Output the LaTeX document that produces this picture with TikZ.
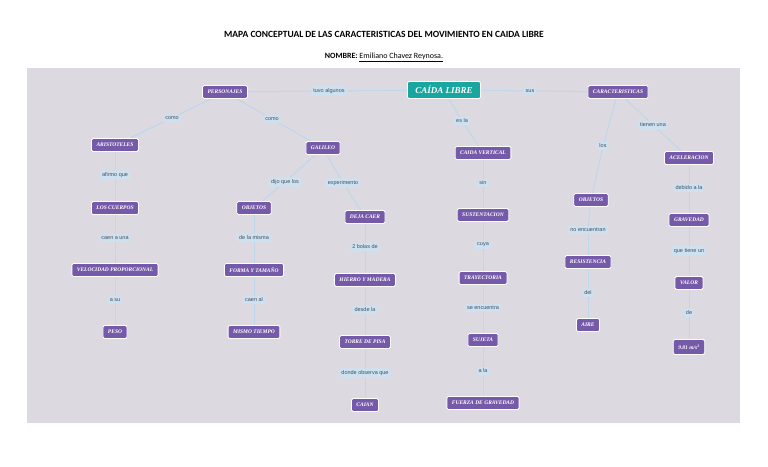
\documentclass[tikz,border=0pt]{standalone}
\usepackage{fontspec}
\usetikzlibrary{backgrounds}
\setmainfont{Liberation Serif}
\newfontfamily\lab{Liberation Sans}
\newfontfamily\ttl{Carlito}
\definecolor{boxc}{RGB}{118,90,170}
\definecolor{tealc}{RGB}{25,165,160}
\definecolor{lblc}{RGB}{205,225,240}
\definecolor{lbltxt}{RGB}{70,80,95}
\definecolor{lnc}{RGB}{190,215,235}
\definecolor{panel}{RGB}{220,218,224}
\begin{document}
\begin{tikzpicture}[x=1pt,y=-1pt,
 box/.style={draw=white,line width=0.8pt,fill=boxc,rounded corners=1.5pt,text=white,font=\fontsize{5.5}{6}\selectfont\bfseries\itshape,inner xsep=5pt,minimum height=13pt},
 lbl/.style={fill=lblc,rounded corners=1pt,font=\lab\fontsize{5.5}{6}\selectfont,text=lbltxt,inner sep=2pt},
 ln/.style={draw=lnc,line width=1pt}]
\useasboundingbox (0,0) rectangle (768,466);
\node[font=\ttl\bfseries\fontsize{9.5}{11}\selectfont] (t1) at (384,34) {MAPA CONCEPTUAL DE LAS CARACTERISTICAS DEL MOVIMIENTO EN CAIDA LIBRE};
\node[font=\ttl\fontsize{8}{10}\selectfont] (t2) at (384,57) {\textbf{NOMBRE:} \underline{Emiliano Chavez Reynosa.}};
\node[box,fill=tealc,font=\fontsize{9}{10}\selectfont\bfseries\itshape,minimum height=17pt,inner xsep=8pt] (cl) at (444,90) {CAÍDA LIBRE};
\node[box] (per) at (225,92) {PERSONAJES};
\node[box] (car) at (618,92) {CARACTERISTICAS};
\node[box] (ari) at (115,145) {ARISTOTELES};
\node[box] (gal) at (323,148) {GALILEO};
\node[box] (cv) at (483,153) {CAIDA VERTICAL};
\node[box] (ace) at (689,158) {ACELERACION};
\node[box] (obj2) at (591,200) {OBJETOS};
\node[box] (lc) at (115,208) {LOS CUERPOS};
\node[box] (obj) at (254,208) {OBJETOS};
\node[box] (dc) at (365,217) {DEJA CAER};
\node[box] (sus) at (483,215) {SUSTENTACION};
\node[box] (gra) at (689,220) {GRAVEDAD};
\node[box] (vp) at (115,270) {VELOCIDAD PROPORCIONAL};
\node[box] (fyt) at (254,270) {FORMA Y TAMAÑO};
\node[box] (hym) at (365,280) {HIERRO Y MADERA};
\node[box] (tra) at (483,278) {TRAYECTORIA};
\node[box] (res) at (588,262) {RESISTENCIA};
\node[box] (val) at (689,283) {VALOR};
\node[box] (pes) at (115,332) {PESO};
\node[box] (mt) at (254,332) {MISMO TIEMPO};
\node[box] (tp) at (365,342) {TORRE DE PISA};
\node[box] (suj) at (483,340) {SUJETA};
\node[box] (air) at (588,325) {AIRE};
\node[box,minimum height=15pt] (num) at (689,347) {9.81 m/s$^{\mathbf 2}$};
\node[box] (cai) at (365,405) {CAIAN};
\node[box] (fg) at (483,403) {FUERZA DE GRAVEDAD};
\node[lbl] (l1) at (329,91) {tuvo algunos};
\node[lbl] (l2) at (530,91) {sus};
\node[lbl] (l3) at (172,118) {como};
\node[lbl] (l4) at (272,119) {como};
\node[lbl] (l5) at (462,121) {es la};
\node[lbl] (l6) at (653,125) {tienen una};
\node[lbl] (l7) at (603,146) {los};
\node[lbl] (l8) at (115,175) {afirmo que};
\node[lbl] (l9) at (285,182) {dijo que los};
\node[lbl] (l10) at (343,183) {experimento};
\node[lbl] (l11) at (483,183) {sin};
\node[lbl] (l12) at (689,188) {debido a la};
\node[lbl] (l13) at (588,230) {no encuentran};
\node[lbl] (l14) at (115,238) {caen a una};
\node[lbl] (l15) at (254,238) {de la misma};
\node[lbl] (l16) at (365,247) {2 bolas de};
\node[lbl] (l17) at (483,245) {cuya};
\node[lbl] (l18) at (689,251) {que tiene un};
\node[lbl] (l19) at (588,293) {del};
\node[lbl] (l20) at (115,300) {a su};
\node[lbl] (l21) at (254,300) {caen al};
\node[lbl] (l22) at (365,310) {desde la};
\node[lbl] (l23) at (483,308) {se encuentra};
\node[lbl] (l24) at (689,313) {de};
\node[lbl] (l25) at (365,373) {donde observa que};
\node[lbl] (l26) at (483,371) {a la};
\begin{pgfonlayer}{background}
\fill[white] (0,0) rectangle (768,466);
\fill[panel] (27,68) rectangle (740,423);
\foreach \a/\b/\c in {per/l1/cl, cl/l2/car, per/l3/ari, per/l4/gal, cl/l5/cv, car/l6/ace, car/l7/obj2,
 ari/l8/lc, gal/l9/obj, gal/l10/dc, cv/l11/sus, ace/l12/gra, obj2/l13/res, lc/l14/vp, obj/l15/fyt,
 dc/l16/hym, sus/l17/tra, gra/l18/val, res/l19/air, vp/l20/pes, fyt/l21/mt, hym/l22/tp, tra/l23/suj,
 val/l24/num, tp/l25/cai, suj/l26/fg}
 {\draw[ln] (\a) -- (\b); \draw[ln] (\b) -- (\c);}
\end{pgfonlayer}
\end{tikzpicture}
\end{document}
